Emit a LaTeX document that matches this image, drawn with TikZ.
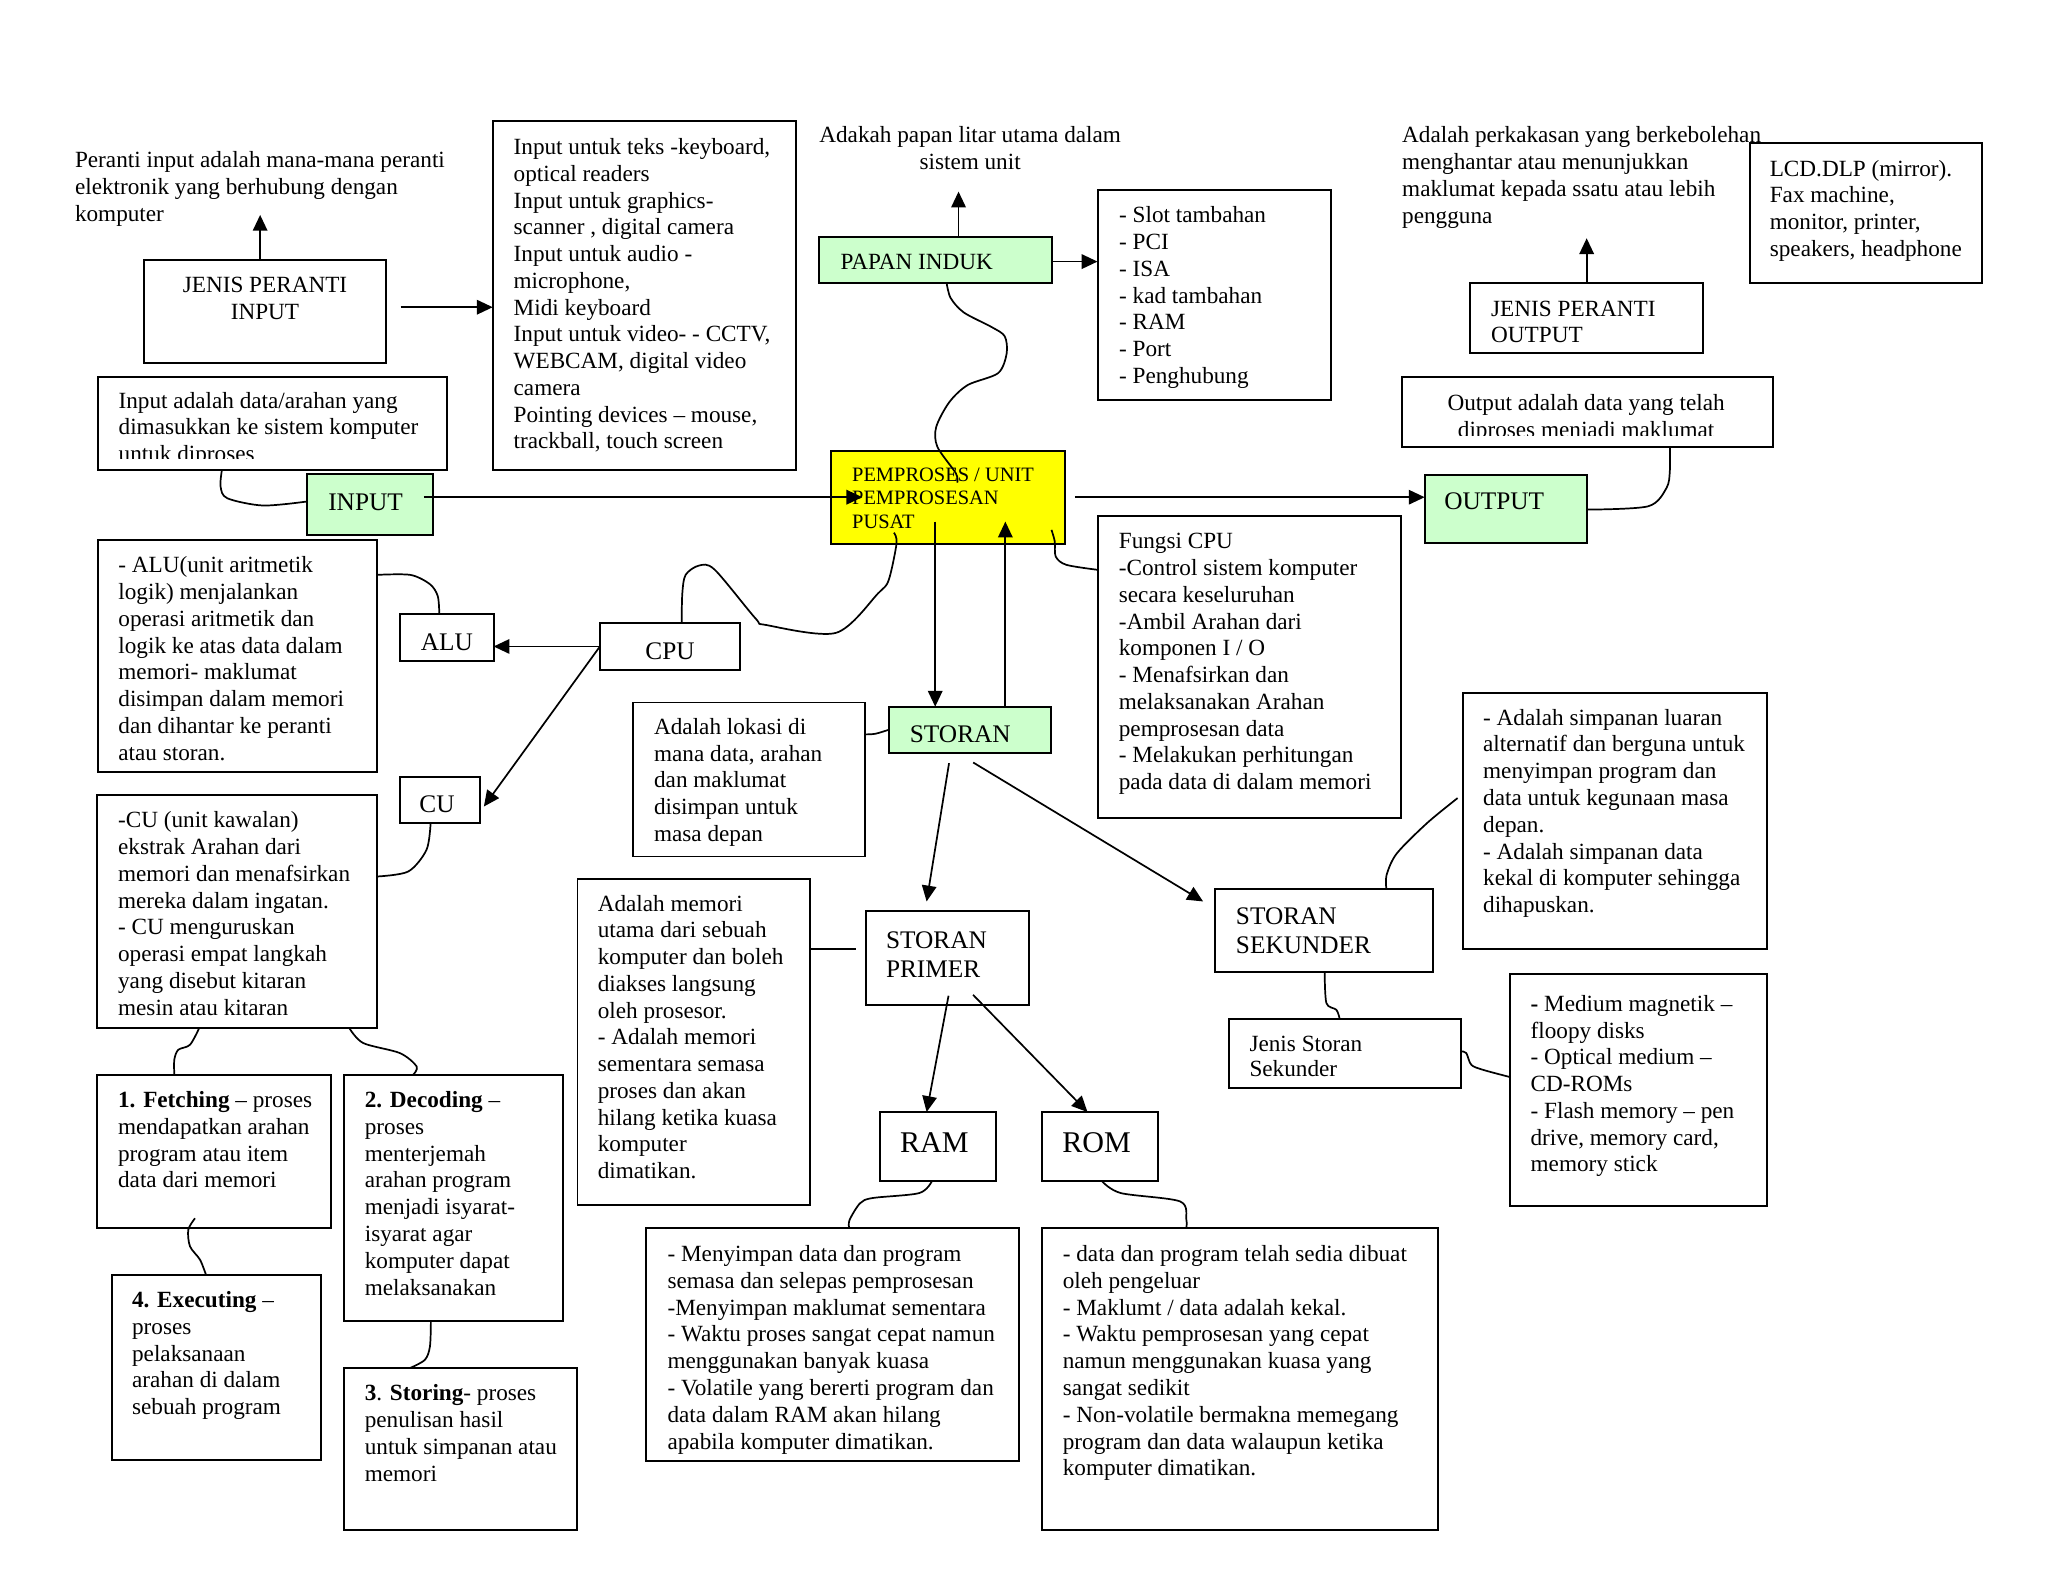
\documentclass[tikz,border=0pt]{standalone}
\usepackage{fontspec}
\setmainfont{Liberation Serif}
\usetikzlibrary{arrows.meta,fit}
\definecolor{lgreen}{HTML}{CCFFCC}
\definecolor{ylw}{HTML}{FFFF00}
\newcommand{\TL}[1]{\begin{tabular}[t]{@{}l@{}}#1\end{tabular}}
\newcommand{\TC}[1]{\begin{tabular}[t]{@{}c@{}}#1\end{tabular}}
\tikzset{
  box/.style={draw, line width=0.75pt, inner sep=0pt},
  gbox/.style={box, fill=lgreen},
  ybox/.style={box, fill=ylw},
  txt/.style={inner sep=0pt, anchor=base west, yshift=-1pt, font=\fontsize{8.8}{10.15}\selectfont},
  ctxt/.style={inner sep=0pt, anchor=base, yshift=-1pt, font=\fontsize{8.8}{10.15}\selectfont},
  lbl/.style={inner sep=0pt, anchor=base west, yshift=-1pt, font=\fontsize{9.6}{11.1}\selectfont},
  clbl/.style={inner sep=0pt, anchor=base, yshift=-1pt, font=\fontsize{9.6}{11.1}\selectfont},
  big/.style={inner sep=0pt, anchor=base, yshift=-1pt, font=\fontsize{11.4}{13}\selectfont},
  conn/.style={line width=0.65pt},
  arr/.style={conn, -{Triangle[length=6pt,width=5.5pt]}},
}
\begin{document}
\begin{tikzpicture}[x=0.5pt,y=-0.5pt]
\useasboundingbox[fill=white] (0,0) rectangle (1553.3,1200);

% ---------- free texts ----------
\node[txt] (pin) at (56.5,125.3) {\TL{Peranti input adalah mana-mana peranti\\elektronik yang berhubung dengan\\komputer}};
\node[ctxt] (pap) at (735.8,106.4) {\TC{Adakah papan litar utama dalam\\sistem unit}};
\node[txt] (pout) at (1063.1,106.4) {\TL{Adalah perkakasan yang berkebolehan\\menghantar atau menunjukkan\\maklumat kepada ssatu atau lebih\\pengguna}};

% ---------- boxes ----------
\node[box, fit={(109,197)(293,275)}] (jpi) {};
\node[ctxt] (jpit) at (201,220) {\TC{JENIS PERANTI\\INPUT}};

\node[box, fit={(373.7,91.5)(603.4,356.4)}] (types) {};
\node[txt] (typest) at (389.2,115.2) {\TL{Input untuk teks -keyboard,\\optical readers\\Input untuk graphics-\\scanner , digital camera\\Input untuk audio -\\microphone,\\Midi keyboard\\Input untuk video- - CCTV,\\WEBCAM, digital video\\camera\\Pointing devices -- mouse,\\trackball, touch screen}};

\node[box, fit={(74.2,285.6)(338.8,356.4)}] (inad) {};
\begin{scope}
\clip (74.2,285.6) rectangle (338.8,347.8);
\node[txt] (inadt) at (89.6,307.5) {\TL{Input adalah data/arahan yang\\dimasukkan ke sistem komputer\\untuk diproses}};
\end{scope}

\node[gbox, fit={(232.6,359.7)(328.1,405.7)}] (input) {};
\node[lbl] (inputt) at (248.6,385.4) {INPUT};

\node[ybox, fit={(630.4,342)(808,412.7)}] (cpuy) {};
\node[inner sep=0pt, anchor=base west, yshift=-1pt, font=\fontsize{7.75}{8.85}\selectfont] (cpuyt) at (645.9,363.2) {\TL{PEMPROSES / UNIT\\PEMPROSESAN\\PUSAT}};

\node[gbox, fit={(1080.5,360)(1204,412)}] (output) {};
\node[lbl] (outputt) at (1095,384.5) {OUTPUT};

\node[box, fit={(1063.1,285.6)(1344.9,338.7)}] (outad) {};
\begin{scope}
\clip (1063.1,285.6) rectangle (1344.9,330.2);
\node[ctxt] (outadt) at (1203,309.6) {\TC{Output adalah data yang telah\\diproses menjadi maklumat}};
\end{scope}

\node[box, fit={(1115,214.8)(1291.9,267.9)}] (jpo) {};
\node[txt] (jpot) at (1130.6,237.8) {\TL{JENIS PERANTI\\OUTPUT}};

\node[box, fit={(1327,108.7)(1503.2,214.8)}] (lcd) {};
\node[txt] (lcdt) at (1341.9,131.6) {\TL{LCD.DLP (mirror).\\Fax machine,\\monitor, printer,\\speakers, headphone}};

\node[gbox, fit={(621.1,179.5)(797.6,214.8)}] (papan) {};
\node[txt] (papant) at (637.1,202.4) {PAPAN INDUK};

\node[box, fit={(832.4,144.1)(1009.4,303.3)}] (list) {};
\node[txt] (listt) at (848.4,167) {\TL{- Slot tambahan\\- PCI\\- ISA\\- kad tambahan\\- RAM\\- Port\\- Penghubung}};

\node[gbox, fit={(674,536)(797.4,571)}] (storan) {};
\node[lbl] (storant) at (689.7,561) {STORAN};

\node[box, fit={(479.8,532.8)(656,649.6)}] (stdesc) {};
\node[txt] (stdesct) at (495.7,555) {\TL{Adalah lokasi di\\mana data, arahan\\dan maklumat\\disimpan untuk\\masa depan}};

\node[box, fit={(832.7,391.3)(1062.3,620.5)}] (fungsi) {};
\node[txt] (fungsit) at (848.2,414.2) {\TL{Fungsi CPU\\-Control sistem komputer\\secara keseluruhan\\-Ambil Arahan dari\\komponen I / O\\- Menafsirkan dan\\melaksanakan Arahan\\pemprosesan data\\- Melakukan perhitungan\\pada data di dalam memori}};

\node[box, fit={(74.2,409.5)(285.8,585.6)}] (alutext) {};
\node[txt] (alutextt) at (89.4,432.4) {\TL{- ALU(unit aritmetik\\logik) menjalankan\\operasi aritmetik dan\\logik ke atas data dalam\\memori- maklumat\\disimpan dalam memori\\dan dihantar ke peranti\\atau storan.}};

\node[box, fit={(303.7,465.6)(374.4,501)}] (alu) {};
\node[clbl] (alut) at (339,491.5) {ALU};

\node[box, fit={(455,472.6)(561,508)}] (cpu) {};
\node[clbl] (cput) at (508.2,498.4) {CPU};

\node[box, fit={(303.7,589.4)(363.7,624.3)}] (cu) {};
\node[clbl] (cut) at (331.5,614.6) {CU};

\node[box, fit={(73.8,603.3)(285.6,779.7)}] (cutext) {};
\node[txt] (cutextt) at (89.2,625.8) {\TL{-CU (unit kawalan)\\ekstrak Arahan dari\\memori dan menafsirkan\\mereka dalam ingatan.\\- CU menguruskan\\operasi empat langkah\\yang disebut kitaran\\mesin atau kitaran}};

\node[box, fit={(73.8,815.1)(250.8,931.4)}] (fetch) {};
\node[txt] (fetcht) at (89.2,838.1) {\TL{\textbf{1. Fetching} -- proses\\mendapatkan arahan\\program atau item\\data dari memori}};

\node[box, fit={(261.1,815.1)(427.2,1002.2)}] (decode) {};
\node[txt] (decodet) at (276.3,838.1) {\TL{\textbf{2. Decoding} --\\proses\\menterjemah\\arahan program\\menjadi isyarat-\\isyarat agar\\komputer dapat\\melaksanakan}};

\node[box, fit={(84.7,966.8)(243.4,1107.6)}] (exec) {};
\node[txt] (exect) at (99.8,989.7) {\TL{\textbf{4. Executing} --\\proses\\pelaksanaan\\arahan di dalam\\sebuah program}};

\node[box, fit={(261.1,1037.6)(437.3,1160.7)}] (store) {};
\node[txt] (storet) at (276.3,1060.5) {\TL{\textbf{3}. \textbf{Storing}- proses\\penulisan hasil\\untuk simpanan atau\\memori}};

\node[box, fit={(438,666.8)(614.1,913.7)}] (memu) {};
\node[txt] (memut) at (453,689) {\TL{Adalah memori\\utama dari sebuah\\komputer dan boleh\\diakses langsung\\oleh prosesor.\\- Adalah memori\\sementara semasa\\proses dan akan\\hilang ketika kuasa\\komputer\\dimatikan.}};

\node[box, fit={(656.6,691.3)(780.1,762)}] (primer) {};
\node[lbl] (primert) at (671.6,717.5) {\TL{STORAN\\PRIMER}};

\node[box, fit={(921.3,674.1)(1086.8,737.3)}] (sek) {};
\node[lbl] (sekt) at (937,699.3) {\TL{STORAN\\SEKUNDER}};

\node[box, fit={(1109.4,525.8)(1340,720)}] (adsimp) {};
\node[txt] (adsimpt) at (1124.5,548) {\TL{- Adalah simpanan luaran\\alternatif dan berguna untuk\\menyimpan program dan\\data untuk kegunaan masa\\depan.\\- Adalah simpanan data\\kekal di komputer sehingga\\dihapuskan.}};

\node[box, fit={(931.9,772.9)(1108.4,825.2)}] (jenis) {};
\node[inner sep=0pt, anchor=base west, yshift=-1pt, font=\fontsize{8.8}{9.6}\selectfont] (jenist) at (947.3,795.6) {\TL{Jenis Storan\\Sekunder}};

\node[box, fit={(1145.3,738.6)(1340,915)}] (medium) {};
\node[txt] (mediumt) at (1160.5,765) {\TL{\textbf{-} Medium magnetik --\\floopy disks\\- Optical medium --\\CD-ROMs\\- Flash memory -- pen\\drive, memory card,\\memory stick}};

\node[box, fit={(667.4,843.4)(755.2,896)}] (ram) {};
\node[big] (ramt) at (708.6,872) {RAM};
\node[box, fit={(790.6,843.4)(878.4,896)}] (rom) {};
\node[big] (romt) at (831.7,872) {ROM};

\node[box, fit={(490,931.4)(773.2,1107.9)}] (ramdesc) {};
\node[txt] (ramdesct) at (505.9,954.9) {\TL{- Menyimpan data dan program\\semasa dan selepas pemprosesan\\-Menyimpan maklumat sementara\\- Waktu proses sangat cepat namun\\menggunakan banyak kuasa\\- Volatile yang bererti program dan\\data dalam RAM akan hilang\\apabila komputer dimatikan.}};

\node[box, fit={(790.6,931.4)(1090.8,1160.7)}] (romdesc) {};
\node[txt] (romdesct) at (805.7,954.9) {\TL{- data dan program telah sedia dibuat\\oleh pengeluar\\- Maklumt / data adalah kekal.\\- Waktu pemprosesan yang cepat\\namun menggunakan kuasa yang\\sangat sedikit\\- Non-volatile bermakna memegang\\program dan data walaupun ketika\\komputer dimatikan.}};

% ---------- connectors ----------
\draw[arr] (197.3,197) -- (197.3,163);
\draw[arr] (303.9,233) -- (373.7,233);
\draw[conn] plot[smooth] coordinates {(168.3,356.4) (167.3,369) (172.4,377.9) (199.4,383.4) (232.6,380.4)};
\draw[arr] (321.4,377.1) -- (654,377.1);
\draw[arr] (815.3,377.1) -- (1080.5,377.1);
\draw[conn] plot[smooth] coordinates {(1204,386.5) (1250,384) (1264,370) (1266.5,356.8) (1266.5,338.7)};
\draw[arr] (1203.4,214.8) -- (1203.4,180.7);
\draw[arr] (727,179.5) -- (727,145.3);
\draw[arr] (797.6,198.4) -- (832.4,198.4);
\draw[conn] plot[smooth] coordinates {(718,214.8) (721,226) (731,237) (752,248) (762,255) (763.5,268) (757,283) (734,292) (720,305) (710,324) (711,339) (725,359) (726,366)};
\draw[conn] plot[smooth] coordinates {(678,404) (680,412) (674,440) (666,450) (634,480) (581,474) (573,469) (542,432) (530,429) (520,436) (517.5,450) (517,472.6)};
\draw[conn] plot[smooth] coordinates {(797.5,401.9) (800,410.7) (800.7,422.1) (808.8,428.4) (832.7,432.2)};
\draw[arr] (709.3,395.6) -- (709.3,536);
\draw[arr] (762.5,536) -- (762.5,395.6);
\draw[conn] plot[smooth] coordinates {(656,557) (664,556.5) (674,553.5)};
\draw[conn] plot[smooth] coordinates {(285.8,436) (311.2,436) (326,443) (332,452) (333.2,465.6)};
\draw[arr] (455,490.3) -- (374.4,490.3);
\draw[arr] (455,490.3) -- (367,611.7);
\draw[conn] plot[smooth] coordinates {(326.6,624.3) (323.5,644.5) (309.6,661) (285.6,664.8)};
\draw[conn] plot[smooth] coordinates {(151.1,779.7) (144.1,792.4) (135.2,796.2) (132.2,803.8) (132.2,815.1)};
\draw[conn] plot[smooth] coordinates {(264.9,779.7) (275.5,791.1) (303.3,798.7) (316,808.8) (313.4,815.1)};
\draw[conn] plot[smooth] coordinates {(147.9,924) (142.8,932.7) (144.1,945.3) (151.7,955.4) (156.2,966.8)};
\draw[conn] plot[smooth] coordinates {(326.8,1002.2) (326.1,1021.1) (322.3,1031.3) (310.9,1037.6)};
\draw[conn] (614.1,719.6) -- (649.2,719.6);
\draw[arr] (719.8,578.8) -- (702.8,683.7);
\draw[arr] (738.1,578.3) -- (912.5,683.7);
\draw[conn] plot[smooth] coordinates {(1051.5,674.1) (1051.6,663.8) (1059.3,647.4) (1082.3,624.3) (1105.5,605.3)};
\draw[conn] plot[smooth] coordinates {(1004.7,737.3) (1006,760.8) (1013.6,765.9) (1016.1,772.9)};
\draw[conn] plot[smooth] coordinates {(1108.4,797.4) (1112.1,798.7) (1115.9,807.6) (1124.8,811.4) (1145.3,816.9)};
\draw[arr] (719.4,755.2) -- (702.8,843.4);
\draw[arr] (738,754.5) -- (824.8,843.4);
\draw[conn] plot[smooth] coordinates {(706.7,896) (697.1,904.9) (662,908.6) (652.4,912.5) (644.4,925.1) (644,931.4)};
\draw[conn] plot[smooth] coordinates {(835.9,896) (850.2,904.9) (895,911.2) (899.8,925.1) (899.7,931.4)};
\end{tikzpicture}
\end{document}
